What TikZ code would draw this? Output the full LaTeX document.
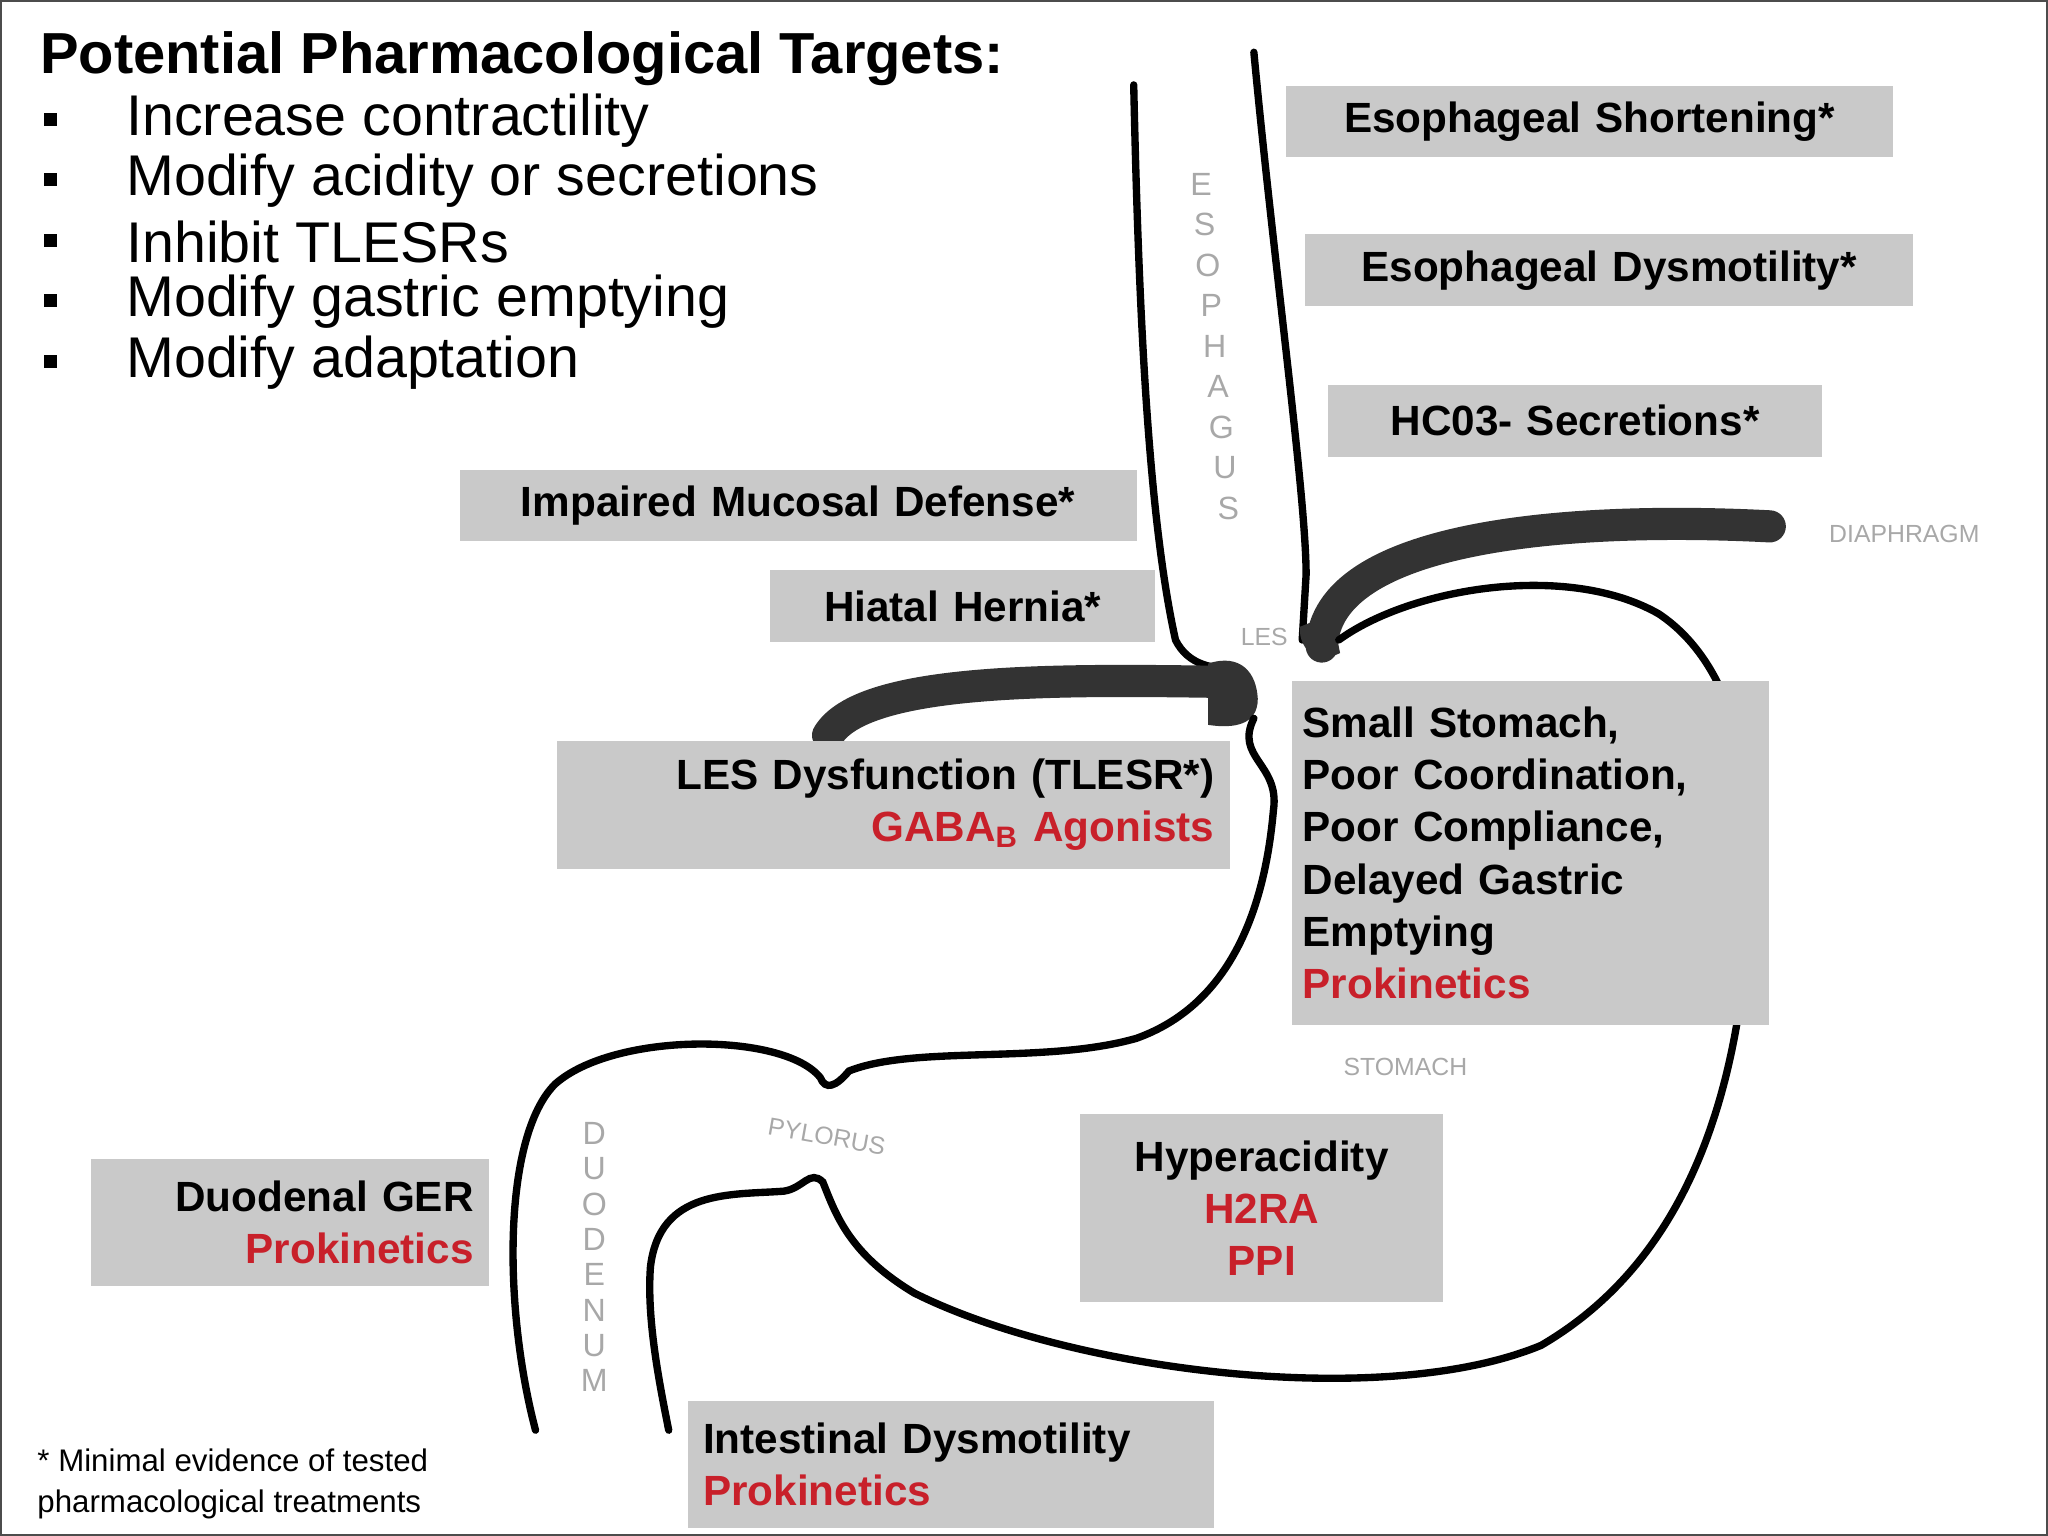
\documentclass[tikz,border=0pt]{standalone}
\usepackage{fontspec}
\setmainfont{Liberation Sans}
\usetikzlibrary{positioning}
\definecolor{boxgray}{HTML}{C9C9C9}
\definecolor{drugred}{HTML}{C8202A}
\definecolor{faint}{HTML}{A8A8A8}
\tikzset{
  cause/.style={fill=boxgray, font=\fontsize{9.2}{11.4}\selectfont\bfseries, inner ysep=0pt, inner xsep=0.12cm, align=center},
  box/.style n args={2}{text width=#1cm-0.24cm, minimum height=#2cm},
  drug/.style={text=drugred},
  tag/.style={text=faint, font=\fontsize{5.4}{6}\selectfont},
  wall/.style={line width=1.6pt, line cap=round},
  band/.style={line width=7pt, line cap=round, draw=black!80},
}
\begin{document}
\begin{tikzpicture}[x=0.01cm, y=-0.01cm]
        \useasboundingbox (0,0) rectangle (1568,1176);
        \draw[line width=0.8pt, black!70] (0,0) rectangle (1568,1176);
        %
        % list of targets
        \node [anchor=west, inner sep=0pt, font=\fontsize{12.6}{14}\selectfont\bfseries] (title) at (30,45) {Potential Pharmacological Targets:};
        \foreach \txt [count=\i] in {Increase contractility, Modify acidity or secretions, Inhibit TLESRs, Modify gastric emptying, Modify adaptation} {
          \node [anchor=west, inner sep=0pt, font=\fontsize{12.5}{14}\selectfont] (t\i) at (96,{46+46.3*\i}) {\txt};
          \fill (34,{40+46.3*\i}) rectangle (44,{50+46.3*\i});
        }
        %
        % esophagus walls
        \draw[wall] (868,65) .. controls (872,250) and (880,400) .. (900,490) .. controls (910,510) and (930,512) .. (945,512);
        \draw[wall] (960,40) .. controls (975,200) and (1000,380) .. (1000,440) -- (997,490);
        % diaphragm
        \draw[band] (634,563) .. controls (660,520) and (800,520) .. (930,522);
        \fill[black!80] (925,508) .. controls (950,500) and (962,515) .. (963,535) .. controls (963,555) and (945,558) .. (925,555) -- cycle;
        \draw[band] (1012,495) .. controls (1015,410) and (1200,395) .. (1355,403);
        \fill[black!80] (995,480) .. controls (995,500) and (1010,508) .. (1026,500) -- (1020,470) -- cycle;
        % stomach outer
        \draw[wall] (1025,490) .. controls (1080,450) and (1200,430) .. (1270,470)
          .. controls (1330,510) and (1345,600) .. (1340,680)
          .. controls (1335,820) and (1300,960) .. (1180,1030)
          .. controls (1060,1080) and (820,1050) .. (700,990)
          .. controls (650,960) and (640,930) .. (630,905)
          .. controls (620,895) and (615,910) .. (600,912)
          .. controls (560,915) and (505,910) .. (498,970)
          .. controls (495,1010) and (505,1060) .. (512,1095);
        % stomach inner
        \draw[wall] (960,550) .. controls (945,580) and (980,585) .. (975,620)
          .. controls (968,700) and (940,770) .. (870,795)
          .. controls (800,815) and (700,800) .. (650,820)
          .. controls (640,832) and (632,835) .. (628,825)
          .. controls (600,790) and (470,790) .. (425,830)
          .. controls (385,870) and (385,1000) .. (410,1095);
        %
        % organ labels
        \foreach \ch [count=\i] in {E,S,O,P,H,A,G,U,S}
          \node [tag, font=\fontsize{7}{8}\selectfont] (e\i) at ({917+2.6*\i},{110+31*\i}) {\ch};
        \foreach \ch [count=\i] in {D,U,O,D,E,N,U,M}
          \node [tag, font=\fontsize{7}{8}\selectfont] (d\i) at (455,{841+27*\i}) {\ch};
        \node [tag] (les) at (968,488) {LES};
        \node [tag] (diaphragm) at (1458,409) {DIAPHRAGM};
        \node [tag] (stomach) at (1076,817) {STOMACH};
        \node [tag, rotate=-10] (pylorus) at (633,870) {PYLORUS};
        %
        % causes and treatments
        \node [cause, box={4.65}{0.55}] (shorten) at (1217,93) {Esophageal Shortening*};
        \node [cause, box={4.65}{0.55}] (dysmot) at (1232,207) {Esophageal Dysmotility*};
        \node [cause, box={3.78}{0.55}] (hco) at (1206,322) {HC03- Secretions*};
        \node [cause, box={5.18}{0.55}] (mucosal) at (611,387) {Impaired Mucosal Defense*};
        \node [cause, box={2.95}{0.55}] (hernia) at (737,464) {Hiatal Hernia*};
        \node [cause, box={5.15}{0.98}, align=right] (lesdys) at (684,616) {LES Dysfunction (TLESR*)\\ \textcolor{drugred}{GABA\textsubscript{B} Agonists}};
        \node [cause, box={3.65}{2.63}, align=left, inner xsep=0.08cm, text width=3.49cm] (small) at (1172,653) {Small Stomach,\\Poor Coordination,\\Poor Compliance,\\Delayed Gastric\\Emptying\\ \textcolor{drugred}{Prokinetics}};
        \node [cause, box={2.78}{1.44}] (hyper) at (966,925) {Hyperacidity\\ \textcolor{drugred}{H2RA}\\ \textcolor{drugred}{PPI}};
        \node [cause, box={3.05}{0.97}, align=right] (duod) at (222,936) {Duodenal GER\\ \textcolor{drugred}{Prokinetics}};
        \node [cause, box={4.03}{0.97}, align=left] (intest) at (728,1121) {Intestinal Dysmotility\\ \textcolor{drugred}{Prokinetics}};
        %
        % footnote
        \node [anchor=west, align=left, inner sep=0pt, font=\fontsize{6.8}{8.8}\selectfont] (note) at (28,1136) {* Minimal evidence of tested\\pharmacological treatments};
\end{tikzpicture}
\end{document}
